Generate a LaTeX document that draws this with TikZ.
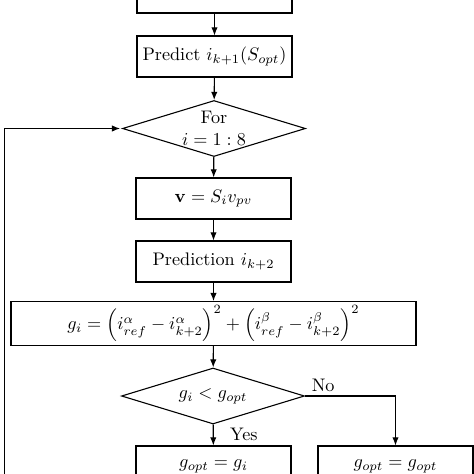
\documentclass[tikz,border=0pt]{standalone}
\usetikzlibrary{shapes.geometric,arrows.meta}
\begin{document}
\begin{tikzpicture}[x=0.55pt,y=-0.55pt,
  line width=0.6pt,
  stepbox/.style={draw,rectangle,minimum width=85.25pt,minimum height=22.55pt,inner sep=2pt},
  widebox/.style={draw,rectangle,minimum width=222.75pt,minimum height=22.55pt,inner sep=2pt},
  decide/.style={draw,diamond,minimum width=100.65pt,minimum height=30.8pt,inner sep=-5pt,shape aspect=3.2,align=center},
  flow/.style={-{Latex[length=4.5pt,width=3.5pt]}},
  lbl/.style={inner sep=1pt}]
\useasboundingbox (0,0) rectangle (474,474);
\clip (0,0) rectangle (474,474);
\node[stepbox] (top) at (214.5,-7.5) {};
\node[stepbox] (pred1) at (214.5,56.5) {Predict $i_{k+1}(S_{opt})$};
\node[decide] (for) at (214,128.5) {For\\[0pt] $i=1:8$};
\node[stepbox] (vbox) at (213.5,198.5) {$\mathbf{v}=S_i v_{pv}$};
\node[stepbox] (pred2) at (213.5,261.5) {Prediction $i_{k+2}$};
\node[widebox] (cost) at (213.5,323.5) {$g_i=\left(i^{\alpha}_{ref}-i^{\alpha}_{k+2}\right)^2+\left(i^{\beta}_{ref}-i^{\beta}_{k+2}\right)^2$};
\node[decide] (cmp) at (213,396) {$g_i<g_{opt}$};
\node[stepbox] (yesbox) at (213.5,466.5) {$g_{opt}=g_i$};
\node[stepbox] (nobox) at (395.5,466.5) {$g_{opt}=g_{opt}$};
\coordinate (loopstart) at (4.5,480);
\draw[flow] (top) -- (pred1);
\draw[flow] (pred1) -- (for);
\draw[flow] (for) -- (vbox);
\draw[flow] (vbox) -- (pred2);
\draw[flow] (pred2) -- (cost);
\draw[flow] (cost) -- (cmp);
\draw[flow] (cmp) -- node[lbl,right,pos=0.45,xshift=8pt] {Yes} (yesbox);
\draw[flow] (cmp.east) -- node[lbl,above,pos=0.2,yshift=1pt] {No} (nobox.north |- cmp.east) -- (nobox);
\draw[flow] (loopstart) |- ([xshift=-1pt]for.west);
\end{tikzpicture}
\end{document}
